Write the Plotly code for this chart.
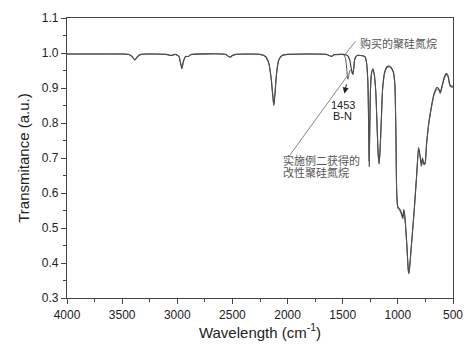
import plotly.graph_objects as go

# Wavenumber grid (cm-1)
wavenumber = [4000, 3500, 3440, 3410, 3385, 3360, 3330, 3100, 3055, 3020,
              2985, 2970, 2958, 2945, 2925, 2900, 2880, 2560, 2535, 2518,
              2500, 2470, 2250, 2200, 2170, 2150, 2135, 2125, 2115, 2100,
              2080, 2050, 2000, 1650, 1600, 1580, 1500, 1490, 1475, 1465,
              1458, 1453, 1446, 1435, 1425, 1415, 1408, 1400, 1390, 1370,
              1300, 1285, 1272, 1265, 1260, 1255, 1248, 1238, 1225, 1212,
              1200, 1188, 1178, 1170, 1162, 1150, 1138, 1120, 1100, 1080,
              1060, 1040, 1027, 1018, 1010, 1000, 985, 970, 955, 946,
              937, 920, 905, 900, 890, 880, 866, 850, 830, 812,
              800, 786, 777, 765, 755, 740, 720, 696, 670, 643,
              625, 616, 600, 580, 562, 545, 527, 510, 500]

# Purchased polysilazane
t_purchased = [0.997, 0.997, 0.996, 0.990, 0.980, 0.990, 0.996, 0.996, 0.993, 0.996,
               0.990, 0.970, 0.955, 0.975, 0.990, 0.990, 0.995, 0.996, 0.990, 0.988,
               0.993, 0.996, 0.996, 0.990, 0.970, 0.930, 0.880, 0.850, 0.880, 0.940,
               0.980, 0.993, 0.996, 0.996, 0.990, 0.995, 0.996, 0.996, 0.995, 0.994,
               0.993, 0.991, 0.988, 0.978, 0.960, 0.946, 0.940, 0.955, 0.983, 0.993,
               0.990, 0.975, 0.920, 0.800, 0.676, 0.780, 0.900, 0.945, 0.955, 0.935,
               0.890, 0.790, 0.710, 0.686, 0.720, 0.810, 0.900, 0.945, 0.960, 0.963,
               0.958, 0.945, 0.910, 0.780, 0.600, 0.560, 0.555, 0.545, 0.530, 0.553,
               0.535, 0.460, 0.380, 0.372, 0.400, 0.440, 0.495, 0.560, 0.650, 0.730,
               0.710, 0.680, 0.700, 0.685, 0.685, 0.740, 0.800, 0.847, 0.886, 0.902,
               0.895, 0.888, 0.905, 0.930, 0.941, 0.935, 0.908, 0.905, 0.905]

# Modified polysilazane (Example 2)
t_modified = [0.997, 0.997, 0.996, 0.990, 0.981, 0.990, 0.996, 0.996, 0.993, 0.996,
              0.990, 0.971, 0.957, 0.976, 0.990, 0.990, 0.995, 0.996, 0.990, 0.989,
              0.993, 0.996, 0.996, 0.990, 0.971, 0.932, 0.883, 0.853, 0.883, 0.942,
              0.980, 0.993, 0.996, 0.996, 0.991, 0.995, 0.996, 0.995, 0.985, 0.960,
              0.935, 0.925, 0.935, 0.950, 0.950, 0.942, 0.938, 0.958, 0.984, 0.993,
              0.990, 0.973, 0.915, 0.790, 0.690, 0.775, 0.895, 0.942, 0.952, 0.932,
              0.886, 0.785, 0.705, 0.683, 0.716, 0.805, 0.896, 0.942, 0.958, 0.961,
              0.956, 0.943, 0.906, 0.775, 0.596, 0.556, 0.551, 0.541, 0.526, 0.549,
              0.531, 0.456, 0.376, 0.369, 0.397, 0.437, 0.492, 0.556, 0.646, 0.726,
              0.706, 0.676, 0.696, 0.681, 0.681, 0.736, 0.796, 0.843, 0.882, 0.898,
              0.891, 0.884, 0.901, 0.926, 0.938, 0.932, 0.905, 0.902, 0.902]

x_ticks = [4000, 3500, 3000, 2500, 2000, 1500, 1000, 500]

fig = go.Figure()
fig.add_trace(go.Scatter(x=wavenumber, y=t_purchased, mode="lines",
                         line=dict(color="#333333", width=1.1, shape="spline", smoothing=0.6),
                         name="购买的聚硅氮烷", hoverinfo="skip"))
fig.add_trace(go.Scatter(x=wavenumber, y=t_modified, mode="lines",
                         line=dict(color="#555555", width=1.0, shape="spline", smoothing=0.6),
                         name="实施例二获得的改性聚硅氮烷", hoverinfo="skip"))

cjk = "Noto Sans CJK SC"
txt_col = "#555555"

# leader lines
fig.add_shape(type="line", x0=1384, y0=1.033, x1=1491, y1=0.991,
              line=dict(color="#666666", width=0.8))
fig.add_shape(type="line", x0=1982, y0=0.707, x1=1455, y1=0.936,
              line=dict(color="#666666", width=0.8))

fig.add_annotation(x=1360, y=1.030, text="购买的聚硅氮烷", showarrow=False,
                   xanchor="left", yanchor="middle",
                   font=dict(family=cjk, size=11, color=txt_col))
fig.add_annotation(x=2060, y=0.693, text="实施例二获得的", showarrow=False,
                   xanchor="left", yanchor="middle",
                   font=dict(family=cjk, size=11, color=txt_col))
fig.add_annotation(x=2060, y=0.660, text="改性聚硅氮烷", showarrow=False,
                   xanchor="left", yanchor="middle",
                   font=dict(family=cjk, size=11, color=txt_col))
# B-N arrow
fig.add_annotation(x=1484, y=0.884, ax=1464, ay=0.915, axref="x", ayref="y",
                   text="", showarrow=True, arrowhead=2, arrowsize=1.2,
                   arrowwidth=1.0, arrowcolor="#222222")
fig.add_annotation(x=1500, y=0.852, text="1453", showarrow=False,
                   xanchor="center", yanchor="middle",
                   font=dict(family="Liberation Sans", size=11, color="#222222"))
fig.add_annotation(x=1500, y=0.819, text="B-N", showarrow=False,
                   xanchor="center", yanchor="middle",
                   font=dict(family="Liberation Sans", size=11, color="#222222"))

axis_common = dict(showline=True, linecolor="#444444", linewidth=1.2, mirror=True,
                   ticks="outside", ticklen=5, tickwidth=1, tickcolor="#444444",
                   showgrid=False, zeroline=False,
                   tickfont=dict(family="Liberation Sans", size=12, color="#222222"))

fig.update_xaxes(range=[4000, 500], tickvals=x_ticks,
                 minor=dict(dtick=250, ticks="outside", ticklen=3, tickcolor="#444444"),
                 title=dict(text="Wavelength (cm<sup>-1</sup>)", standoff=6,
                            font=dict(family="Liberation Sans", size=15, color="#222222")),
                 **axis_common)
fig.update_yaxes(range=[0.3, 1.1], dtick=0.1, tickformat=".1f",
                 minor=dict(dtick=0.05, ticks="outside", ticklen=3, tickcolor="#444444"),
                 title=dict(text="Transmitance (a.u.)", standoff=8,
                            font=dict(family="Liberation Sans", size=15, color="#222222")),
                 **axis_common)

fig.update_layout(width=474, height=352, showlegend=False,
                  margin=dict(l=67, r=15, t=11, b=54),
                  paper_bgcolor="white", plot_bgcolor="white")

fig.write_html("out.html")
